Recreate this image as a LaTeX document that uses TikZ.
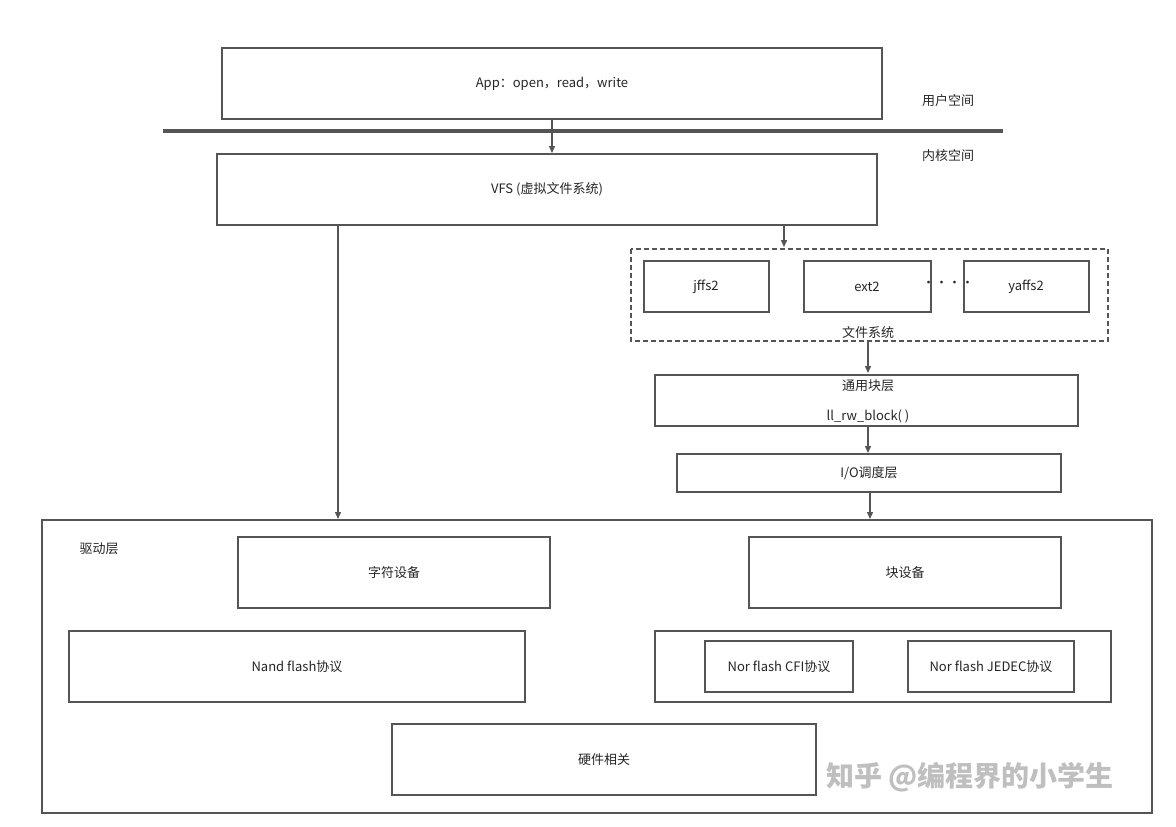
\documentclass[tikz,border=0pt]{standalone}
\usepackage{fontspec}
\setmainfont{Noto Sans CJK SC}
\usetikzlibrary{arrows.meta}
\definecolor{ln}{HTML}{555555}
\begin{document}
\begin{tikzpicture}[x=1pt,y=-1pt,
  bx/.style={draw=ln,line width=1.6pt},
  ar/.style={draw=ln,line width=1.4pt,-{Triangle[length=7pt,width=6pt]}},
  lb/.style={font=\fontsize{13}{15}\selectfont,text=black!85}]
\useasboundingbox (0,0) rectangle (1176,827);
\fill[white] (0,0) rectangle (1176,827);
\draw[bx] (222,48) rectangle (882,119);
\node[lb] (app) at (552,84) {App：open，read，write};
\coordinate (appb) at (552,119);
\draw[ln,line width=4pt] (163,131) -- (1003,131);
\node[lb] (us) at (948,101) {用户空间};
\node[lb] (ks) at (948,156) {内核空间};
\draw[bx] (217,154) rectangle (877,225);
\node[lb] (vfs) at (547,189) {VFS (虚拟文件系统)};
\coordinate (vfst) at (552,153);
\draw[ar] (appb) -- (vfst);
\draw[ln,line width=1.6pt,dash pattern=on 5pt off 3pt] (631,249) rectangle (1108,341);
\draw[bx] (644,261) rectangle (769,312); \node[lb] (j) at (706,287) {jffs2};
\draw[bx] (804,261) rectangle (931,312); \node[lb] (e) at (867,287) {ext2};
\node[lb] (dots) at (948,284) {····};
\draw[bx] (964,261) rectangle (1089,312); \node[lb] (y) at (1026,287) {yaffs2};
\node[lb] (fs) at (868,333) {文件系统};
\coordinate (a1) at (784,225); \coordinate (a2) at (784,247);
\draw[ar] (a1) -- (a2);
\coordinate (b1) at (868,341); \coordinate (b2) at (868,373);
\draw[ar] (b1) -- (b2);
\draw[bx] (655,375) rectangle (1078,426);
\node[lb] (gb) at (868,386) {通用块层};
\node[lb] (ll) at (868,416) {ll\_rw\_block( )};
\coordinate (c1) at (868,426); \coordinate (c2) at (868,453);
\draw[ar] (c1) -- (c2);
\draw[bx] (677,454) rectangle (1061,492);
\node[lb] (io) at (869,473) {I/O调度层};
\coordinate (d1) at (870,492); \coordinate (d2) at (870,519);
\draw[ar] (d1) -- (d2);
\draw[bx] (42,520) rectangle (1152,813);
\node[lb] (qd) at (99,549) {驱动层};
\coordinate (v1) at (338,225); \coordinate (v2) at (338,519);
\draw[ar] (v1) -- (v2);
\draw[bx] (238,537) rectangle (550,608); \node[lb] (zf) at (394,573) {字符设备};
\draw[bx] (749,537) rectangle (1061,608); \node[lb] (kd) at (905,573) {块设备};
\draw[bx] (69,631) rectangle (525,702); \node[lb] (nand) at (297,667) {Nand flash协议};
\draw[bx] (655,631) rectangle (1111,702);
\draw[bx] (705,641) rectangle (853,692); \node[lb] (cfi) at (779,667) {Nor flash CFI协议};
\draw[bx] (908,641) rectangle (1074,692); \node[lb] (jedec) at (991,667) {Nor flash JEDEC协议};
\draw[bx] (392,724) rectangle (816,795); \node[lb] (hw) at (604,760) {硬件相关};
\node[font=\fontsize{28}{32}\selectfont\bfseries,text=black!25] (wm) at (970,777) {知乎 @编程界的小学生};
\end{tikzpicture}
\end{document}
